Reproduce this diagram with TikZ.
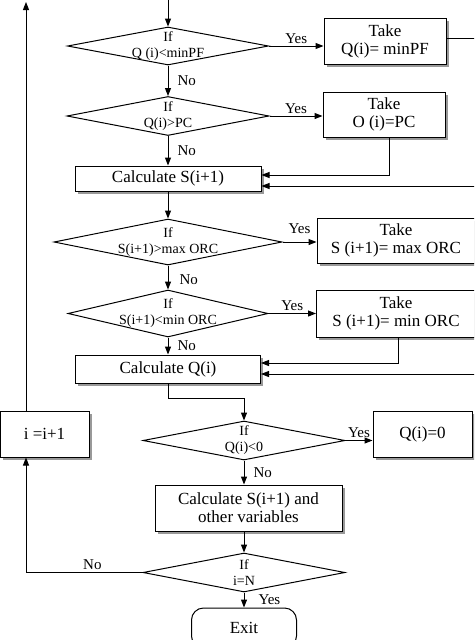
\documentclass[tikz,border=0pt]{standalone}
\usepackage{fontspec}
\setmainfont{Liberation Serif}
\usetikzlibrary{shapes.geometric,arrows.meta,shadows,calc}

\tikzset{
	box/.style={draw,rectangle,fill=white,inner sep=0pt,align=center,
		font=\fontsize{17}{18}\selectfont,
		drop shadow={shadow xshift=2.5pt,shadow yshift=-2.5pt,fill=gray!80,opacity=1}},
	decision/.style={draw,diamond,inner sep=0pt},
	dtext/.style={align=center,inner sep=0pt,font=\fontsize{14}{16}\selectfont},
	term/.style={draw,rectangle,rounded corners=12pt,fill=white,inner sep=0pt,
		font=\fontsize{17}{18}\selectfont},
	lbl/.style={inner sep=2pt,font=\fontsize{15}{16}\selectfont},
	nolbl/.style={lbl,right,xshift=7pt},
}

\begin{document}
\begin{tikzpicture}[x=1pt,y=-1pt,line width=1pt,>={Triangle[length=8pt,width=6pt]}]

	\clip (0,0) rectangle (474,640);

	% Feltetelek es beallitasok
	% -------------------------
	\node[decision,minimum width=201pt,minimum height=38pt,
		  label={[dtext]center:{If\\Q (i)<minPF}}] (chkMin) at (168,46) {};
	\node[box,minimum width=122pt,minimum height=46pt] (takeMin) at (385,41) {Take\\Q(i)= minPF};

	\node[decision,minimum width=202pt,minimum height=39pt,
		  label={[dtext]center:{If\\Q(i)>PC}}] (chkPC) at (168,116) {};
	\node[box,minimum width=122pt,minimum height=45pt] (takePC) at (384,114.5) {Take\\O (i)=PC};

	\node[box,minimum width=186pt,minimum height=25pt] (calcS) at (168,178.5) {Calculate S(i+1)};

	\node[decision,minimum width=228pt,minimum height=46pt,
		  label={[dtext]center:{If\\S(i+1)>max ORC}}] (chkMax) at (168,242) {};
	\node[box,minimum width=158pt,minimum height=45pt] (takeMax) at (396,240.5) {Take\\S (i+1)= max ORC};

	\node[decision,minimum width=200pt,minimum height=47pt,
		  label={[dtext]center:{If\\S(i+1)<min ORC}}] (chkMinO) at (168,313.5) {};
	\node[box,minimum width=159pt,minimum height=47pt] (takeMinO) at (396,313.5) {Take\\S (i+1)= min ORC};

	\node[box,minimum width=185pt,minimum height=28pt] (calcQ) at (168,369) {Calculate Q(i)};

	\node[decision,minimum width=202pt,minimum height=39pt,
		  label={[dtext]center:{If\\Q(i)<0}}] (chkNeg) at (244,440.5) {};
	\node[box,minimum width=99pt,minimum height=46pt] (zero) at (422.5,434) {Q(i)=0};
	\node[box,minimum width=89pt,minimum height=46pt] (inc) at (44.5,434) {i =i+1};

	\node[box,minimum width=187pt,minimum height=46pt] (calcV) at (248.5,508) {Calculate S(i+1) and\\other variables};

	\node[decision,minimum width=202pt,minimum height=39pt,
		  label={[dtext]center:{If\\i=N}}] (chkEnd) at (244,572.5) {};

	\node[term,minimum width=105pt,minimum height=40pt] (exit) at (244,628) {Exit};

	\coordinate (topIn) at (168,-5);
	\coordinate (ret) at (26,2);

	% Osszekotesek
	\draw [->] (topIn) -- (chkMin.north);
	\draw [->] (chkMin.east) -- node[lbl,above]{Yes} (chkMin.east -| takeMin.west);
	\draw [->] (chkMin.south) -- node[nolbl]{No} (chkPC.north);
	\draw [->] (chkPC.east) -- node[lbl,above]{Yes} (chkPC.east -| takePC.west);
	\draw [->] (chkPC.south) -- node[nolbl]{No} (calcS.north);
	\draw [->] ([xshift=5pt]takePC.south) |- ([yshift=3.5pt]calcS.east);
	\draw [->] ([yshift=3pt]takeMin.east) -- ++(40,0) |- ([yshift=-7.5pt]calcS.east);

	\draw [->] (calcS.south) -- (chkMax.north);
	\draw [->] (chkMax.east) -- node[lbl,above,yshift=6pt]{Yes} (chkMax.east -| takeMax.west);
	\draw [->] (chkMax.south) -- node[nolbl,pos=0.6,xshift=2pt]{No} (chkMinO.north);
	\draw [->] (chkMinO.east) -- node[lbl,above]{Yes} (chkMinO.east -| takeMinO.west);
	\draw [->] (chkMinO.south) -- node[nolbl]{No} (calcQ.north);
	\draw [->] ([xshift=2pt]takeMinO.south) |- ([yshift=6pt]calcQ.east);
	\draw [->] (takeMax.east) -- ++(20,0) |- ([yshift=-5pt]calcQ.east);

	\draw [->] (calcQ.south) -- ++(0,15) -| (chkNeg.north);
	\draw [->] (chkNeg.east) -- node[lbl,above]{Yes} (chkNeg.east -| zero.west);
	\draw [->] (chkNeg.south) -- node[nolbl]{No} (chkNeg.south |- calcV.north);
	\draw [->] (chkEnd.north |- calcV.south) -- (chkEnd.north);
	\draw [->] (chkEnd.west) -- node[lbl,above,pos=0.43]{No} (chkEnd.west -| ret) -- (ret |- inc.south);
	\draw [->] (inc.north -| ret) -- (ret);
	\draw [->] (chkEnd.south) -- node[lbl,right,xshift=12pt]{Yes} (exit.north);

\end{tikzpicture}
\end{document}
